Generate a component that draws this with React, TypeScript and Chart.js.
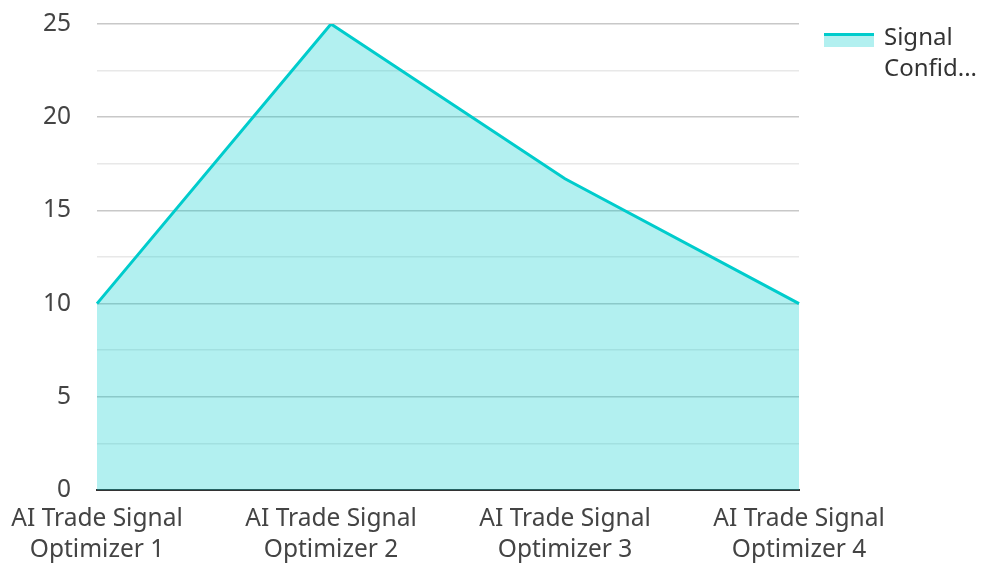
import React, { useEffect, useRef } from "react";
import { Chart, registerables } from "chart.js";

Chart.register(...registerables);

const categories: string[][] = [
  ["AI Trade Signal", "Optimizer 1"],
  ["AI Trade Signal", "Optimizer 2"],
  ["AI Trade Signal", "Optimizer 3"],
  ["AI Trade Signal", "Optimizer 4"],
];
const seriesLabel = "Signal Confidence";
const seriesValues: number[] = [10, 25, 16.7, 10];
const yMin = 0;
const yMax = 25;
const yStep = 2.5;
const yLabelStep = 5;

const FONT = "'Noto Sans', sans-serif";
const LINE = "rgb(0, 204, 204)";
const FILL = "rgba(0, 204, 204, 0.3)";

const legendPlugin = {
  id: "customLegend",
  afterDraw(chart: any) {
    const ctx = chart.ctx as CanvasRenderingContext2D;
    const ds = chart.data.datasets[0];
    const area = chart.chartArea;
    const boxX = area.right + 25;
    const boxY = 33;
    const boxW = 50;
    const boxH = 14;
    ctx.save();
    ctx.fillStyle = ds.backgroundColor;
    ctx.fillRect(boxX, boxY, boxW, boxH);
    ctx.strokeStyle = ds.borderColor;
    ctx.lineWidth = 3;
    ctx.beginPath();
    ctx.moveTo(boxX, boxY + 1.5);
    ctx.lineTo(boxX + boxW, boxY + 1.5);
    ctx.stroke();

    ctx.font = `24px ${FONT}`;
    ctx.fillStyle = "#333";
    ctx.textBaseline = "alphabetic";
    ctx.textAlign = "left";
    const textX = boxX + boxW + 10;
    const maxW = chart.width - textX;
    const words = String(ds.label).split(" ");
    const lines = words.map((w: string) => {
      if (ctx.measureText(w).width <= maxW) return w;
      let s = w;
      while (s.length > 1 && ctx.measureText(s + "...").width > maxW) s = s.slice(0, -1);
      return s + "...";
    });
    lines.forEach((l: string, i: number) => {
      ctx.fillText(l, textX, 45 + i * 31);
    });
    ctx.restore();
  },
};

export default function App() {
  const ref = useRef<HTMLCanvasElement | null>(null);
  useEffect(() => {
    if (!ref.current) return;
    const chart = new Chart(ref.current, {
      type: "line",
      data: {
        labels: categories,
        datasets: [
          {
            label: seriesLabel,
            data: seriesValues,
            borderColor: LINE,
            backgroundColor: FILL,
            borderWidth: 3,
            fill: "origin",
            pointRadius: 0,
            pointHoverRadius: 0,
            tension: 0,
          },
        ],
      },
      options: {
        animation: false,
        responsive: false,
        devicePixelRatio: 1,
        layout: { padding: { left: 0, right: 182, top: 24, bottom: 0 } },
        plugins: {
          legend: { display: false },
          tooltip: { enabled: false },
        },
        scales: {
          x: {
            offset: false,
            grid: {
              display: true,
              drawOnChartArea: false,
              drawTicks: true,
              tickLength: 14,
              tickColor: "rgba(0,0,0,0)",
            },
            border: { display: true, color: "#333", width: 2 },
            ticks: {
              color: "#444",
              font: { family: FONT, size: 24.5, lineHeight: 1.265 },
              padding: 0,
              maxRotation: 0,
              autoSkip: false,
            },
            afterFit(scale: any) {
              scale.height = 74;
            },
          },
          y: {
            min: yMin,
            max: yMax,
            grid: {
              drawTicks: true,
              tickLength: 26,
              tickColor: "rgba(0,0,0,0)",
              color: (c: any) =>
                c.tick && Math.abs(c.tick.value % yLabelStep) < 1e-6 ? "#c8c8c8" : "#e8e8e8",
              lineWidth: 1.5,
            },
            border: { display: false },
            ticks: {
              stepSize: yStep,
              color: "#444",
              font: { family: FONT, size: 24.5 },
              padding: 0,
              callback: (v: any) => (Math.abs(Number(v) % yLabelStep) < 1e-6 ? String(v) : ""),
            },
            afterFit(scale: any) {
              scale.width = 97;
            },
          },
        },
      },
      plugins: [legendPlugin],
    });
    return () => chart.destroy();
  }, []);
  return (
    <div style={{ position: "absolute", left: 0, top: 0, width: 981, height: 564, background: "#fff" }}>
      <canvas ref={ref} width={981} height={564} />
    </div>
  );
}
